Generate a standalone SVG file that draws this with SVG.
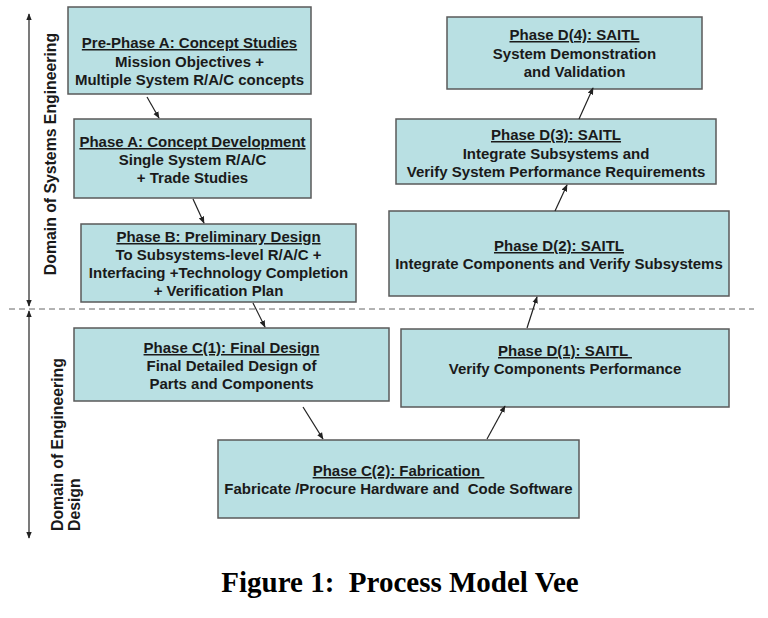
<svg xmlns="http://www.w3.org/2000/svg" width="768" height="618" viewBox="0 0 768 618">
<defs>
<style>
.box{fill:#b9e0e3;stroke:#5a5a5a;stroke-width:1.5}
.t{font-family:"Liberation Sans",Arial,sans-serif;font-weight:bold;font-size:15px;fill:#1a1a1a;text-anchor:middle;white-space:pre}
.u{text-decoration:underline}
.side{font-family:"Liberation Sans",Arial,sans-serif;font-weight:bold;font-size:15.8px;fill:#1a1a1a}
.c{stroke:#222;stroke-width:1.2;fill:none;marker-end:url(#ah)}
.cap{font-family:"Liberation Serif","Times New Roman",serif;font-weight:bold;font-size:29px;fill:#000;text-anchor:middle;white-space:pre}
</style>
<marker id="ah" viewBox="0 0 10 10" refX="9" refY="5" markerWidth="7" markerHeight="7" orient="auto" markerUnits="userSpaceOnUse">
<path d="M0,1 L10,5 L0,9 z" fill="#222"/>
</marker>
<marker id="ah2" viewBox="0 0 10 10" refX="9" refY="5" markerWidth="7" markerHeight="7" orient="auto-start-reverse" markerUnits="userSpaceOnUse">
<path d="M0,1 L10,5 L0,9 z" fill="#222"/>
</marker>
</defs>
<rect width="768" height="618" fill="#fff"/>

<g id="domains">
<line x1="29" y1="14" x2="29" y2="306" stroke="#222" stroke-width="1.2" marker-start="url(#ah2)" marker-end="url(#ah2)"/>
<line x1="29" y1="311" x2="29" y2="538" stroke="#222" stroke-width="1.2" marker-start="url(#ah2)" marker-end="url(#ah2)"/>
<line x1="9" y1="309" x2="754" y2="309" stroke="#666" stroke-width="1" stroke-dasharray="6,4"/>
<text class="side" transform="translate(56,154) rotate(-90)" text-anchor="middle">Domain of Systems Engineering</text>
<text class="side" transform="translate(63,531) rotate(-90)">Domain of Engineering</text>
<text class="side" transform="translate(80,531) rotate(-90)">Design</text>
</g>

<g id="prephaseA">
<rect class="box" x="68" y="7" width="243" height="87"/>
<text class="t" x="189.5" y="48"><tspan class="u">Pre-Phase A: Concept Studies</tspan><tspan x="189.5" dy="18.5">Mission Objectives +</tspan><tspan x="189.5" dy="18.5">Multiple System R/A/C concepts</tspan></text>
</g>

<g id="phaseA">
<rect class="box" x="74" y="119" width="237" height="79"/>
<text class="t" x="192.5" y="147"><tspan class="u">Phase A: Concept Development</tspan><tspan x="192.5" dy="18">Single System R/A/C</tspan><tspan x="192.5" dy="18">+ Trade Studies</tspan></text>
</g>

<g id="phaseB">
<rect class="box" x="81" y="224" width="275" height="78"/>
<text class="t" x="218.5" y="242"><tspan class="u">Phase B: Preliminary Design</tspan><tspan x="218.5" dy="18">To Subsystems-level R/A/C +</tspan><tspan x="218.5" dy="18">Interfacing +Technology Completion</tspan><tspan x="218.5" dy="18">+ Verification Plan</tspan></text>
</g>

<g id="phaseC1">
<rect class="box" x="74" y="328" width="315" height="73"/>
<text class="t" x="231.5" y="353"><tspan class="u">Phase C(1): Final Design</tspan><tspan x="231.5" dy="18">Final Detailed Design of</tspan><tspan x="231.5" dy="18">Parts and Components</tspan></text>
</g>

<g id="phaseC2">
<rect class="box" x="218" y="440" width="361" height="78"/>
<text class="t" x="398.5" y="476"><tspan class="u">Phase C(2): Fabrication </tspan><tspan x="398.5" dy="18">Fabricate /Procure Hardware and  Code Software</tspan></text>
</g>

<g id="phaseD1">
<rect class="box" x="401" y="329" width="328" height="78"/>
<text class="t" x="565" y="356"><tspan class="u">Phase D(1): SAITL </tspan><tspan x="565" dy="18">Verify Components Performance</tspan></text>
</g>

<g id="phaseD2">
<rect class="box" x="389" y="211" width="340" height="85"/>
<text class="t" x="559" y="251"><tspan class="u">Phase D(2): SAITL</tspan><tspan x="559" dy="18">Integrate Components and Verify Subsystems</tspan></text>
</g>

<g id="phaseD3">
<rect class="box" x="396" y="119" width="320" height="65"/>
<text class="t" x="556" y="140"><tspan class="u">Phase D(3): SAITL</tspan><tspan x="556" dy="18.5">Integrate Subsystems and</tspan><tspan x="556" dy="18.5">Verify System Performance Requirements</tspan></text>
</g>

<g id="phaseD4">
<rect class="box" x="447" y="17" width="255" height="72"/>
<text class="t" x="574.5" y="40"><tspan class="u">Phase D(4): SAITL</tspan><tspan x="574.5" dy="18.5">System Demonstration</tspan><tspan x="574.5" dy="18.5">and Validation</tspan></text>
</g>

<g id="connectors">
<line class="c" x1="147" y1="97" x2="159" y2="118"/>
<line class="c" x1="193" y1="199" x2="204" y2="223"/>
<line class="c" x1="253" y1="303" x2="265" y2="327"/>
<line class="c" x1="303" y1="407" x2="323" y2="439"/>
<line class="c" x1="487" y1="439" x2="505" y2="406"/>
<line class="c" x1="527" y1="328" x2="537" y2="297"/>
<line class="c" x1="555" y1="211" x2="567" y2="185"/>
<line class="c" x1="579" y1="119" x2="593" y2="88"/>
</g>

<text class="cap" x="400" y="592">Figure 1:  Process Model Vee</text>
</svg>
